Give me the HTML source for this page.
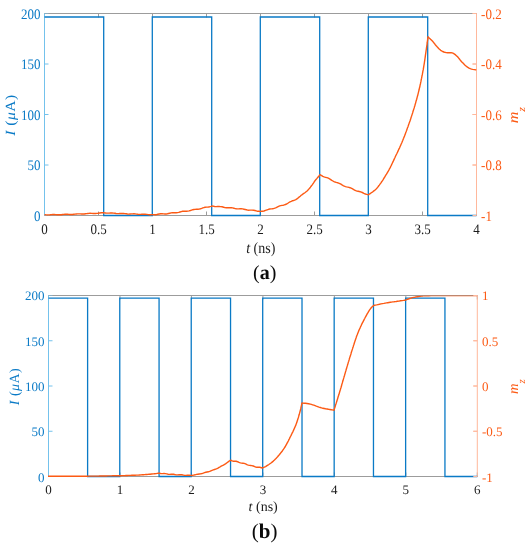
<!DOCTYPE html>
<html><head><meta charset="utf-8"><title>Figure</title>
<style>html,body{margin:0;padding:0;background:#fff}svg{display:block;font-family:"Liberation Serif",serif;font-size:13px;text-rendering:geometricPrecision}</style>
</head><body>
<svg width="531" height="550" viewBox="0 0 531 550">
<rect width="531" height="550" fill="#fff"/>
<path d="M44.5 13.5H476.5M44.5 215.5H476.5" stroke="#9c9c9c" fill="none"/>
<path d="M44.5 215.5v-4M44.5 13.5v4M98.5 215.5v-4M98.5 13.5v4M152.5 215.5v-4M152.5 13.5v4M206.5 215.5v-4M206.5 13.5v4M260.5 215.5v-4M260.5 13.5v4M314.5 215.5v-4M314.5 13.5v4M368.5 215.5v-4M368.5 13.5v4M422.5 215.5v-4M422.5 13.5v4M476.5 215.5v-4M476.5 13.5v4" stroke="#9c9c9c" fill="none"/>
<path d="M44.5 13.5V215.5M44.5 215.5h4M44.5 165h4M44.5 114.5h4M44.5 64h4M44.5 13.5h4" stroke="#74c2ec" fill="none"/>
<path d="M476.5 13.5V215.5M476.5 215.5h-4M476.5 165h-4M476.5 114.5h-4M476.5 64h-4M476.5 13.5h-4" stroke="#ffb89c" fill="none"/>
<path d="M44.5 16.99H103.7V215.5H152.3V16.99H211.7V215.5H260.3V16.99H319.7V215.5H368.3V16.99H427.7V215.5H476.5" stroke="#0a7ac6" stroke-width="1.3" fill="none"/>
<clipPath id="ca"><rect x="43.5" y="13.2" width="433.6" height="203.3"/></clipPath>
<path d="M44.5 214.8L45.3 214.8L46.2 214.9L47.3 215.0L48.5 214.9L49.9 214.8L51.3 214.6L52.8 214.5L54.3 214.5L55.8 214.6L57.3 214.7L58.7 214.8L60.0 214.8L61.3 214.7L62.5 214.5L63.8 214.4L65.0 214.3L66.3 214.3L67.5 214.3L68.8 214.4L70.0 214.5L71.3 214.5L72.5 214.5L73.8 214.3L75.0 214.1L76.3 214.0L77.6 213.9L78.9 213.9L80.3 213.9L81.6 214.0L82.9 214.0L84.2 214.0L85.5 213.8L86.7 213.6L87.9 213.5L89.0 213.4L90.0 213.3L91.8 213.4L93.3 213.5L94.6 213.5L95.8 213.5L96.9 213.4L98.0 213.3L99.7 213.0L101.4 212.8L102.7 212.8L103.7 212.8L104.4 212.9L105.4 213.0L106.5 213.1L107.7 213.1L109.1 213.1L110.5 213.0L112.0 213.0L113.5 213.1L115.0 213.3L116.1 213.5L117.3 213.6L118.5 213.6L119.7 213.5L121.0 213.5L122.3 213.4L123.6 213.5L124.9 213.6L126.2 213.8L127.5 214.0L128.7 214.1L130.0 214.0L131.3 213.9L132.6 213.9L133.9 213.8L135.3 213.9L136.6 214.1L138.0 214.3L139.3 214.4L140.6 214.4L141.8 214.3L142.9 214.3L144.0 214.2L145.0 214.2L146.8 214.4L148.3 214.6L149.7 214.7L150.8 214.7L151.8 214.6L152.5 214.6L153.2 214.6L154.2 214.6L155.3 214.7L156.5 214.6L157.8 214.3L159.2 214.0L160.7 213.8L162.1 213.8L163.6 213.9L165.0 214.0L166.2 214.0L167.4 213.8L168.6 213.5L169.8 213.2L171.1 212.9L172.3 212.7L173.6 212.7L174.9 212.8L176.2 212.8L177.5 212.6L178.7 212.4L180.0 212.0L181.3 211.6L182.6 211.3L183.9 211.2L185.2 211.2L186.5 211.2L187.8 211.1L189.1 210.9L190.4 210.5L191.6 210.1L192.8 209.7L193.9 209.5L195.0 209.4L196.5 209.3L197.9 209.3L199.2 209.1L200.5 208.8L201.7 208.4L202.8 207.9L203.9 207.6L205.0 207.3L206.7 207.1L208.4 207.0L209.8 206.7L211.1 206.3L212.0 206.0L212.8 206.1L213.7 206.3L214.9 206.6L216.2 206.6L217.6 206.5L219.0 206.5L220.5 206.6L222.1 206.8L223.6 207.2L225.0 207.6L226.2 207.7L227.4 207.7L228.7 207.7L230.0 207.6L231.3 207.7L232.6 207.9L233.9 208.2L235.1 208.6L236.4 208.8L237.7 208.9L238.8 208.9L240.0 208.8L241.3 208.8L242.6 208.9L243.9 209.2L245.2 209.5L246.4 209.8L247.6 210.1L248.8 210.2L249.9 210.1L251.0 210.1L252.0 210.1L253.5 210.2L254.9 210.5L256.3 210.9L257.6 211.3L258.8 211.3L259.8 211.4L260.5 211.4L261.4 211.3L262.6 211.2L264.0 211.0L265.5 210.4L267.1 209.8L268.6 209.3L269.8 209.0L271.0 208.9L272.3 208.8L273.5 208.6L274.8 208.2L276.2 207.6L277.6 206.9L278.6 206.4L279.7 205.9L280.8 205.6L282.0 205.4L283.1 205.2L284.3 204.9L285.4 204.5L286.6 204.0L287.8 203.3L288.9 202.5L290.0 201.8L291.2 201.3L292.3 200.8L293.5 200.5L294.6 200.1L295.8 199.6L296.9 198.9L298.0 198.1L299.1 197.1L300.2 196.2L301.2 195.3L302.2 194.6L303.2 193.8L304.2 193.2L305.2 192.5L306.1 191.8L307.1 191.0L308.0 190.1L308.8 189.1L309.6 188.2L310.4 187.2L311.3 186.0L312.2 184.8L312.9 183.8L313.6 182.8L314.2 181.8L314.8 181.0L315.4 180.2L316.0 179.5L317.0 178.4L317.9 177.3L318.8 176.2L319.5 175.3L320.0 174.7L320.7 175.1L321.7 175.7L322.8 176.4L324.1 176.9L325.5 177.3L326.9 177.7L328.3 178.2L329.6 178.9L330.7 179.6L331.8 180.4L332.9 181.0L334.0 181.6L335.1 182.0L336.3 182.4L337.5 182.7L338.6 183.1L339.8 183.6L340.9 184.2L342.0 184.9L343.2 185.6L344.3 186.2L345.5 186.6L346.6 186.9L347.8 187.1L348.9 187.4L350.0 187.7L351.1 188.2L352.2 188.7L353.4 189.4L354.6 190.1L355.8 190.7L357.0 191.1L358.1 191.3L359.3 191.5L360.3 191.8L361.4 192.1L362.3 192.5L363.9 193.3L365.4 194.0L366.7 194.4L367.7 194.6L368.5 194.7L369.1 194.3L369.8 193.8L370.7 193.2L371.7 192.5L372.8 191.8L373.9 190.9L375.1 190.0L376.2 188.9L377.3 187.7L378.0 186.9L378.6 186.0L379.3 185.1L380.0 184.1L380.8 183.1L381.5 182.0L382.3 180.9L383.0 179.8L383.7 178.6L384.4 177.5L385.1 176.4L385.8 175.2L386.5 174.2L387.1 173.1L387.7 172.1L388.4 170.9L389.0 169.8L389.6 168.6L390.2 167.6L390.7 166.5L391.3 165.4L391.8 164.3L392.3 163.2L392.8 162.1L393.4 160.9L394.0 159.6L394.6 158.3L395.1 157.3L395.5 156.3L396.0 155.3L396.5 154.3L397.0 153.3L397.5 152.2L398.0 151.1L398.5 150.0L399.0 148.9L399.6 147.8L400.1 146.6L400.6 145.4L401.1 144.2L401.7 143.0L402.2 141.8L402.7 140.6L403.2 139.3L403.6 138.3L404.0 137.2L404.5 136.1L404.9 135.0L405.3 133.9L405.7 132.8L406.2 131.6L406.6 130.5L407.0 129.3L407.4 128.1L407.9 126.9L408.3 125.7L408.7 124.6L409.1 123.4L409.5 122.2L410.0 121.0L410.4 119.8L410.8 118.6L411.1 117.4L411.5 116.3L411.9 115.1L412.3 113.9L412.7 112.7L413.0 111.5L413.4 110.3L413.8 109.1L414.2 107.9L414.5 106.7L414.9 105.5L415.2 104.3L415.6 103.1L415.9 101.9L416.2 100.7L416.6 99.5L416.9 98.3L417.2 97.1L417.6 95.8L417.9 94.6L418.2 93.4L418.5 92.1L418.8 90.9L419.1 89.8L419.3 88.6L419.6 87.5L419.9 86.3L420.1 85.2L420.4 84.0L420.6 82.9L420.9 81.7L421.1 80.5L421.3 79.4L421.6 78.2L421.8 77.0L422.0 75.8L422.3 74.7L422.5 73.5L422.7 72.3L422.9 71.1L423.2 69.9L423.4 68.7L423.6 67.4L423.8 66.2L424.0 65.0L424.2 63.8L424.4 62.5L424.6 61.2L424.8 59.9L425.0 58.5L425.2 57.1L425.4 55.7L425.6 54.2L425.8 52.8L426.0 51.4L426.2 50.0L426.4 48.6L426.6 47.2L426.8 45.9L427.0 44.6L427.1 43.4L427.3 42.2L427.4 41.1L427.6 40.1L427.7 39.1L427.8 38.2L427.9 37.5L428.0 36.8L428.6 37.4L429.5 38.2L430.5 39.2L431.6 40.3L432.6 41.3L433.5 42.4L434.4 43.5L435.3 44.7L436.2 45.8L437.1 46.8L438.0 47.7L438.9 48.7L439.8 49.5L440.7 50.3L441.6 50.9L442.7 51.5L443.8 52.0L444.9 52.3L446.2 52.6L447.3 52.7L448.6 52.7L449.8 52.7L451.1 52.7L452.2 52.9L453.4 53.4L454.5 54.1L455.6 54.9L456.7 55.9L457.6 56.8L458.5 57.9L459.4 59.0L460.3 60.2L461.2 61.2L462.1 62.2L463.0 63.1L463.9 64.0L464.8 64.9L465.7 65.7L466.8 66.6L467.9 67.4L469.0 68.1L470.3 68.7L471.5 69.1L472.9 69.4L474.3 69.6L475.5 69.8L476.3 69.9" stroke="#fc5a14" stroke-width="1.4" fill="none" stroke-linejoin="round" stroke-linecap="butt" clip-path="url(#ca)"/>
<path d="M44.5 13.5H476.5" stroke="#9c9c9c" stroke-opacity="0.55" fill="none"/>
<path d="M476.5 215.5h-4M476.5 165h-4M476.5 114.5h-4M476.5 64h-4M476.5 13.5h-4" stroke="#ffb89c" fill="none"/>
<text transform="translate(44.5 233.8) scale(1 1.116)" text-anchor="middle" fill="#1c1c1c" font-size="13">0</text>
<text transform="translate(98.5 233.8) scale(1 1.116)" text-anchor="middle" fill="#1c1c1c" font-size="13">0.5</text>
<text transform="translate(152.5 233.8) scale(1 1.116)" text-anchor="middle" fill="#1c1c1c" font-size="13">1</text>
<text transform="translate(206.5 233.8) scale(1 1.116)" text-anchor="middle" fill="#1c1c1c" font-size="13">1.5</text>
<text transform="translate(260.5 233.8) scale(1 1.116)" text-anchor="middle" fill="#1c1c1c" font-size="13">2</text>
<text transform="translate(314.5 233.8) scale(1 1.116)" text-anchor="middle" fill="#1c1c1c" font-size="13">2.5</text>
<text transform="translate(368.5 233.8) scale(1 1.116)" text-anchor="middle" fill="#1c1c1c" font-size="13">3</text>
<text transform="translate(422.5 233.8) scale(1 1.116)" text-anchor="middle" fill="#1c1c1c" font-size="13">3.5</text>
<text transform="translate(476.5 233.8) scale(1 1.116)" text-anchor="middle" fill="#1c1c1c" font-size="13">4</text>
<text transform="translate(40.5 220.86) scale(1 1.116)" text-anchor="end" fill="#0a7ac6" font-size="13">0</text>
<text transform="translate(40.5 170.36) scale(1 1.116)" text-anchor="end" fill="#0a7ac6" font-size="13">50</text>
<text transform="translate(40.5 119.86) scale(1 1.116)" text-anchor="end" fill="#0a7ac6" font-size="13">100</text>
<text transform="translate(40.5 69.36) scale(1 1.116)" text-anchor="end" fill="#0a7ac6" font-size="13">150</text>
<text transform="translate(40.5 18.86) scale(1 1.116)" text-anchor="end" fill="#0a7ac6" font-size="13">200</text>
<text transform="translate(481.1 220.86) scale(1 1.116)" text-anchor="start" fill="#fc5a14" font-size="13">-1</text>
<text transform="translate(481.1 170.36) scale(1 1.116)" text-anchor="start" fill="#fc5a14" font-size="13">-0.8</text>
<text transform="translate(481.1 119.86) scale(1 1.116)" text-anchor="start" fill="#fc5a14" font-size="13">-0.6</text>
<text transform="translate(481.1 69.36) scale(1 1.116)" text-anchor="start" fill="#fc5a14" font-size="13">-0.4</text>
<text transform="translate(481.1 18.86) scale(1 1.116)" text-anchor="start" fill="#fc5a14" font-size="13">-0.2</text>
<text transform="translate(260.8 252.5) scale(1 1.116)" text-anchor="middle" fill="#1c1c1c" font-size="14"><tspan font-style="italic">t</tspan> (ns)</text>
<text transform="translate(15.3 115) rotate(-90) scale(1.116 1)" text-anchor="middle" fill="#0a7ac6" font-size="14" letter-spacing="0.45"><tspan font-style="italic">I</tspan> (<tspan font-style="italic">μ</tspan>A)</text>
<text transform="translate(518.2 115.1) rotate(-90) scale(1.116 1)" text-anchor="middle" fill="#fc5a14" font-size="14.5" font-style="italic">m<tspan font-size="11" dy="6.8">z</tspan></text>
<text x="264.7" y="279" text-anchor="middle" fill="#0a0a0a" font-size="20">(<tspan font-weight="bold">a</tspan>)</text>
<path d="M48.5 295.5H477.3M48.5 476.5H477.3" stroke="#9c9c9c" fill="none"/>
<path d="M48.5 476.5v-4M48.5 295.5v4M119.97 476.5v-4M119.97 295.5v4M191.43 476.5v-4M191.43 295.5v4M262.9 476.5v-4M262.9 295.5v4M334.37 476.5v-4M334.37 295.5v4M405.83 476.5v-4M405.83 295.5v4M477.3 476.5v-4M477.3 295.5v4" stroke="#9c9c9c" fill="none"/>
<path d="M48.5 295.5V476.5M48.5 476.5h4M48.5 431.25h4M48.5 386h4M48.5 340.75h4M48.5 295.5h4" stroke="#74c2ec" fill="none"/>
<path d="M477.3 295.5V476.5M477.3 476.5h-4M477.3 431.25h-4M477.3 386h-4M477.3 340.75h-4M477.3 295.5h-4" stroke="#ffb89c" fill="none"/>
<path d="M48.5 298.22H87.61V476.5H119.77V298.22H159.07V476.5H191.23V298.22H230.54V476.5H262.7V298.22H302.01V476.5H334.17V298.22H373.47V476.5H405.63V298.22H444.94V476.5H477.3" stroke="#0a7ac6" stroke-width="1.3" fill="none"/>
<clipPath id="cb"><rect x="47.5" y="295.2" width="430.40000000000003" height="182.3"/></clipPath>
<path d="M48.0 476.3L48.7 476.3L49.4 476.3L50.3 476.3L51.2 476.3L52.2 476.3L53.2 476.3L54.4 476.3L55.6 476.3L56.8 476.3L58.1 476.3L59.4 476.3L60.7 476.3L62.1 476.3L63.5 476.3L65.0 476.3L66.4 476.3L67.8 476.3L69.3 476.2L70.7 476.2L72.1 476.2L73.5 476.2L74.9 476.2L76.2 476.2L77.5 476.2L78.8 476.2L80.0 476.2L81.2 476.2L82.5 476.2L83.7 476.2L85.0 476.2L86.2 476.2L87.4 476.2L88.7 476.1L89.9 476.1L91.2 476.1L92.4 476.1L93.6 476.1L94.8 476.1L96.0 476.1L97.3 476.1L98.5 476.1L99.7 476.0L100.8 476.0L102.0 476.0L103.2 476.0L104.4 476.0L105.5 476.0L106.6 476.0L107.8 475.9L108.9 475.9L110.0 475.9L111.4 475.9L112.7 475.8L114.1 475.8L115.5 475.8L116.8 475.8L118.2 475.7L119.5 475.7L120.8 475.7L122.1 475.6L123.4 475.6L124.7 475.6L126.0 475.5L127.2 475.5L128.4 475.4L129.6 475.4L130.7 475.4L131.8 475.3L132.9 475.3L134.0 475.2L135.0 475.2L136.6 475.1L138.1 475.1L139.6 475.0L141.0 474.9L142.3 474.8L143.5 474.7L144.7 474.6L145.8 474.5L146.9 474.5L148.0 474.4L149.0 474.3L150.0 474.2L151.7 474.0L153.3 473.9L154.7 473.7L156.1 473.6L157.3 473.4L158.2 473.3L159.0 473.2L159.7 473.3L160.6 473.5L161.6 473.6L162.7 473.6L164.0 473.5L165.3 473.6L166.7 473.9L168.2 474.2L169.7 474.4L171.1 474.3L172.6 474.2L173.7 474.3L175.0 474.6L176.3 474.9L177.6 474.9L179.1 474.8L180.5 474.7L181.9 474.8L183.4 475.1L184.7 475.4L186.1 475.4L187.3 475.2L188.4 475.2L189.4 475.3L190.3 475.4L191.0 475.5L191.7 475.4L192.7 475.3L193.8 475.1L195.1 474.8L196.5 474.4L197.9 474.2L199.3 474.0L200.7 473.8L202.0 473.5L203.3 473.1L204.5 472.6L205.8 472.3L207.1 472.0L208.4 471.8L209.7 471.4L210.9 470.8L212.1 470.3L213.3 469.9L214.5 469.5L215.7 469.1L216.9 468.7L218.0 468.1L219.1 467.4L220.2 466.8L221.2 466.1L222.3 465.6L223.4 465.1L224.6 464.4L225.8 463.6L227.0 462.7L228.1 461.9L229.0 461.2L229.9 460.7L230.5 460.3L231.3 460.5L232.2 460.9L233.4 461.2L234.7 461.2L236.1 461.3L237.6 461.7L239.0 462.4L240.4 462.9L241.6 463.1L242.9 463.2L244.2 463.4L245.6 463.9L246.9 464.6L248.3 465.1L249.5 465.4L250.7 465.5L251.7 465.6L253.3 466.0L254.7 466.6L255.8 467.0L256.9 467.3L258.0 467.3L259.8 467.3L261.4 467.7L262.5 468.0L263.2 467.7L264.3 467.2L265.6 466.6L267.0 465.7L267.9 465.1L268.9 464.5L269.9 463.8L271.0 463.0L272.1 462.1L273.3 461.1L274.5 460.0L275.2 459.3L276.0 458.5L276.8 457.6L277.6 456.7L278.4 455.7L279.3 454.8L280.1 453.8L280.9 452.7L281.7 451.7L282.5 450.7L283.2 449.7L283.9 448.7L284.6 447.6L285.3 446.5L285.9 445.4L286.5 444.3L287.1 443.2L287.7 442.1L288.3 441.0L288.8 439.9L289.4 438.7L289.9 437.6L290.5 436.5L291.1 435.4L291.6 434.3L292.1 433.2L292.7 432.1L293.2 431.0L293.7 429.9L294.2 428.7L294.7 427.6L295.2 426.5L295.7 425.4L296.1 424.3L296.6 423.1L297.0 421.8L297.4 420.5L297.8 419.2L298.2 418.0L298.6 416.7L298.9 415.5L299.3 414.3L299.6 413.1L299.9 412.0L300.3 410.5L300.7 408.9L301.0 407.4L301.3 406.1L301.6 404.8L301.8 403.8L302.0 403.0L302.9 403.1L304.0 403.2L305.4 403.3L307.0 403.5L308.6 403.7L310.3 404.1L311.4 404.4L312.6 404.8L313.8 405.2L315.1 405.7L316.3 406.2L317.6 406.6L319.0 407.1L320.3 407.5L321.6 407.9L322.9 408.2L324.2 408.5L325.6 408.8L327.1 409.0L328.5 409.3L329.9 409.5L331.2 409.7L332.3 409.9L333.3 410.1L334.0 410.2L334.2 409.6L334.4 408.8L334.7 408.0L335.0 407.0L335.3 406.0L335.6 404.9L336.0 403.8L336.4 402.6L336.8 401.3L337.2 400.0L337.6 398.7L338.0 397.3L338.4 396.0L338.9 394.6L339.3 393.2L339.7 391.8L340.1 390.5L340.4 389.5L340.7 388.4L341.1 387.3L341.4 386.2L341.7 385.0L342.0 383.9L342.4 382.7L342.7 381.5L343.1 380.3L343.4 379.1L343.8 377.9L344.1 376.7L344.5 375.5L344.8 374.3L345.2 373.1L345.5 371.9L345.9 370.7L346.2 369.5L346.6 368.3L346.9 367.1L347.3 365.9L347.6 364.8L348.0 363.6L348.3 362.4L348.7 361.2L349.1 359.9L349.4 358.7L349.8 357.4L350.2 356.2L350.6 355.0L351.0 353.7L351.3 352.5L351.7 351.3L352.1 350.1L352.5 348.9L352.8 347.8L353.2 346.7L353.5 345.6L353.9 344.5L354.2 343.5L354.5 342.5L354.8 341.6L355.1 340.7L355.7 339.0L356.2 337.5L356.6 336.2L357.1 335.0L357.5 333.9L357.9 332.9L358.3 331.9L358.7 330.9L359.2 329.8L359.7 328.7L360.2 327.6L360.7 326.4L361.3 325.3L361.8 324.1L362.4 322.9L363.0 321.8L363.6 320.7L364.1 319.6L364.7 318.5L365.2 317.5L365.7 316.6L366.4 315.3L367.1 314.0L367.8 312.9L368.4 311.8L369.0 310.8L369.6 309.9L370.2 309.1L371.2 307.8L372.2 306.8L373.0 306.1L373.6 305.5L374.4 305.3L375.4 305.1L376.6 304.9L378.0 304.6L379.4 304.3L380.9 303.9L382.5 303.6L383.9 303.4L385.3 303.1L386.5 302.9L387.7 302.7L389.0 302.5L390.3 302.3L391.5 302.1L392.8 301.9L394.0 301.8L395.1 301.6L396.3 301.5L397.3 301.3L399.0 301.1L400.6 300.8L402.1 300.6L403.5 300.4L404.7 300.2L405.5 300.1L406.2 299.8L407.2 299.4L408.4 299.0L409.7 298.5L411.0 298.1L412.4 297.7L413.5 297.4L414.7 297.2L415.9 296.9L417.2 296.7L418.5 296.5L419.9 296.3L421.4 296.1L422.3 296.0L423.1 295.9L423.8 295.9L424.5 295.8L425.3 295.8L426.3 295.7L427.5 295.7L429.0 295.7L431.0 295.6L433.5 295.6L434.3 295.6L435.2 295.6L436.2 295.6L437.2 295.6L438.3 295.6L439.4 295.6L440.6 295.6L441.9 295.5L443.2 295.5L444.5 295.5L445.9 295.5L447.3 295.5L448.7 295.5L450.1 295.5L451.6 295.5L453.1 295.5L454.5 295.5L456.0 295.5L457.5 295.5L458.9 295.5L460.4 295.5L461.8 295.5L463.2 295.5L464.6 295.5L465.9 295.5L467.2 295.5L468.4 295.5L469.7 295.5L470.8 295.5L471.9 295.5L472.9 295.5L473.9 295.5L474.8 295.5L475.6 295.5L476.4 295.5L477.0 295.5" stroke="#fc5a14" stroke-width="1.4" fill="none" stroke-linejoin="round" stroke-linecap="butt" clip-path="url(#cb)"/>
<path d="M48.5 295.5H477.3" stroke="#9c9c9c" stroke-opacity="0.55" fill="none"/>
<path d="M477.3 476.5h-4M477.3 431.25h-4M477.3 386h-4M477.3 340.75h-4M477.3 295.5h-4" stroke="#ffb89c" fill="none"/>
<text transform="translate(48.5 493.9)" text-anchor="middle" fill="#1c1c1c" font-size="13">0</text>
<text transform="translate(119.97 493.9)" text-anchor="middle" fill="#1c1c1c" font-size="13">1</text>
<text transform="translate(191.43 493.9)" text-anchor="middle" fill="#1c1c1c" font-size="13">2</text>
<text transform="translate(262.9 493.9)" text-anchor="middle" fill="#1c1c1c" font-size="13">3</text>
<text transform="translate(334.37 493.9)" text-anchor="middle" fill="#1c1c1c" font-size="13">4</text>
<text transform="translate(405.83 493.9)" text-anchor="middle" fill="#1c1c1c" font-size="13">5</text>
<text transform="translate(477.3 493.9)" text-anchor="middle" fill="#1c1c1c" font-size="13">6</text>
<text transform="translate(44.5 481.75)" text-anchor="end" fill="#0a7ac6" font-size="13">0</text>
<text transform="translate(44.5 436.36)" text-anchor="end" fill="#0a7ac6" font-size="13">50</text>
<text transform="translate(44.5 390.96)" text-anchor="end" fill="#0a7ac6" font-size="13">100</text>
<text transform="translate(44.5 345.56)" text-anchor="end" fill="#0a7ac6" font-size="13">150</text>
<text transform="translate(44.5 300.16)" text-anchor="end" fill="#0a7ac6" font-size="13">200</text>
<text transform="translate(481.9 481.75)" text-anchor="start" fill="#fc5a14" font-size="13">-1</text>
<text transform="translate(481.9 436.36)" text-anchor="start" fill="#fc5a14" font-size="13">-0.5</text>
<text transform="translate(481.9 390.96)" text-anchor="start" fill="#fc5a14" font-size="13">0</text>
<text transform="translate(481.9 345.56)" text-anchor="start" fill="#fc5a14" font-size="13">0.5</text>
<text transform="translate(481.9 300.16)" text-anchor="start" fill="#fc5a14" font-size="13">1</text>
<text transform="translate(263.2 510.6)" text-anchor="middle" fill="#1c1c1c" font-size="14"><tspan font-style="italic">t</tspan> (ns)</text>
<text transform="translate(18.9 386.5) rotate(-90)" text-anchor="middle" fill="#0a7ac6" font-size="14" letter-spacing="0.45"><tspan font-style="italic">I</tspan> (<tspan font-style="italic">μ</tspan>A)</text>
<text transform="translate(517.9 386.6) rotate(-90)" text-anchor="middle" fill="#fc5a14" font-size="14.5" font-style="italic">m<tspan font-size="11" dy="6.8">z</tspan></text>
<text x="264.7" y="538" text-anchor="middle" fill="#0a0a0a" font-size="21">(<tspan font-weight="bold">b</tspan>)</text>
</svg>
</body></html>
